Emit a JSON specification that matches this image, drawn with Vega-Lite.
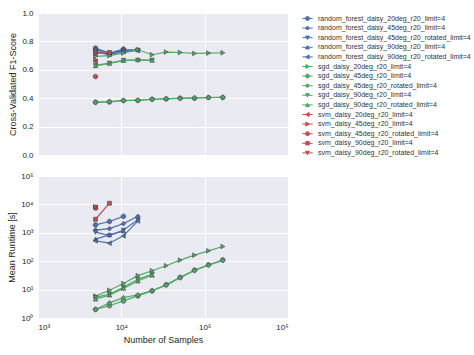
{
 "$schema": "https://vega.github.io/schema/vega-lite/v6.json",
 "background": "white",
 "padding": {"left": 7, "top": 9, "right": 2, "bottom": 5},
 "datasets": {
  "d": [
   {"series": "random_forest_daisy_20deg_r20_limit=4", "n": 4900, "f1": 0.753, "rt": 1900},
   {"series": "random_forest_daisy_20deg_r20_limit=4", "n": 7200, "f1": 0.718, "rt": 2500},
   {"series": "random_forest_daisy_20deg_r20_limit=4", "n": 10600, "f1": 0.746, "rt": 3800},
   {"series": "random_forest_daisy_45deg_r20_limit=4", "n": 4900, "f1": 0.745, "rt": 1250},
   {"series": "random_forest_daisy_45deg_r20_limit=4", "n": 7200, "f1": 0.712, "rt": 1400},
   {"series": "random_forest_daisy_45deg_r20_limit=4", "n": 10600, "f1": 0.74, "rt": 2100},
   {"series": "random_forest_daisy_45deg_r20_limit=4", "n": 15800, "f1": 0.74, "rt": 3800},
   {"series": "random_forest_daisy_45deg_r20_rotated_limit=4", "n": 4900, "f1": 0.73, "rt": 1050},
   {"series": "random_forest_daisy_45deg_r20_rotated_limit=4", "n": 7200, "f1": 0.705, "rt": 800},
   {"series": "random_forest_daisy_45deg_r20_rotated_limit=4", "n": 10600, "f1": 0.735, "rt": 1250},
   {"series": "random_forest_daisy_45deg_r20_rotated_limit=4", "n": 15800, "f1": 0.738, "rt": 2900},
   {"series": "random_forest_daisy_90deg_r20_limit=4", "n": 4900, "f1": 0.742, "rt": 600},
   {"series": "random_forest_daisy_90deg_r20_limit=4", "n": 7200, "f1": 0.715, "rt": 850},
   {"series": "random_forest_daisy_90deg_r20_limit=4", "n": 10600, "f1": 0.742, "rt": 1150},
   {"series": "random_forest_daisy_90deg_r20_rotated_limit=4", "n": 4900, "f1": 0.725, "rt": 520},
   {"series": "random_forest_daisy_90deg_r20_rotated_limit=4", "n": 7200, "f1": 0.708, "rt": 430},
   {"series": "random_forest_daisy_90deg_r20_rotated_limit=4", "n": 10600, "f1": 0.73, "rt": 780},
   {"series": "random_forest_daisy_90deg_r20_rotated_limit=4", "n": 15800, "f1": 0.735, "rt": 2600},

   {"series": "sgd_daisy_20deg_r20_limit=4", "n": 4900, "f1": 0.694, "rt": 5.9},
   {"series": "sgd_daisy_20deg_r20_limit=4", "n": 7200, "f1": 0.70, "rt": 9.5},
   {"series": "sgd_daisy_20deg_r20_limit=4", "n": 10600, "f1": 0.718, "rt": 16.5},
   {"series": "sgd_daisy_20deg_r20_limit=4", "n": 15800, "f1": 0.741, "rt": 31},
   {"series": "sgd_daisy_20deg_r20_limit=4", "n": 23400, "f1": 0.706, "rt": 46},
   {"series": "sgd_daisy_20deg_r20_limit=4", "n": 34500, "f1": 0.725, "rt": 69},
   {"series": "sgd_daisy_20deg_r20_limit=4", "n": 50800, "f1": 0.722, "rt": 109},
   {"series": "sgd_daisy_20deg_r20_limit=4", "n": 75500, "f1": 0.715, "rt": 163},
   {"series": "sgd_daisy_20deg_r20_limit=4", "n": 111000, "f1": 0.718, "rt": 232},
   {"series": "sgd_daisy_20deg_r20_limit=4", "n": 165000, "f1": 0.72, "rt": 330},
   {"series": "sgd_daisy_45deg_r20_limit=4", "n": 4900, "f1": 0.372, "rt": 2.0},
   {"series": "sgd_daisy_45deg_r20_limit=4", "n": 7200, "f1": 0.374, "rt": 2.7},
   {"series": "sgd_daisy_45deg_r20_limit=4", "n": 10600, "f1": 0.384, "rt": 4.0},
   {"series": "sgd_daisy_45deg_r20_limit=4", "n": 15800, "f1": 0.384, "rt": 6.0},
   {"series": "sgd_daisy_45deg_r20_limit=4", "n": 23400, "f1": 0.393, "rt": 9.0},
   {"series": "sgd_daisy_45deg_r20_limit=4", "n": 34500, "f1": 0.395, "rt": 15},
   {"series": "sgd_daisy_45deg_r20_limit=4", "n": 50800, "f1": 0.40, "rt": 27},
   {"series": "sgd_daisy_45deg_r20_limit=4", "n": 75500, "f1": 0.40, "rt": 49},
   {"series": "sgd_daisy_45deg_r20_limit=4", "n": 111000, "f1": 0.405, "rt": 75},
   {"series": "sgd_daisy_45deg_r20_limit=4", "n": 165000, "f1": 0.405, "rt": 112},
   {"series": "sgd_daisy_45deg_r20_rotated_limit=4", "n": 4900, "f1": 0.37, "rt": 2.0},
   {"series": "sgd_daisy_45deg_r20_rotated_limit=4", "n": 7200, "f1": 0.376, "rt": 3.4},
   {"series": "sgd_daisy_45deg_r20_rotated_limit=4", "n": 10600, "f1": 0.382, "rt": 5.2},
   {"series": "sgd_daisy_45deg_r20_rotated_limit=4", "n": 15800, "f1": 0.386, "rt": 6.5},
   {"series": "sgd_daisy_45deg_r20_rotated_limit=4", "n": 23400, "f1": 0.391, "rt": 9.3},
   {"series": "sgd_daisy_45deg_r20_rotated_limit=4", "n": 34500, "f1": 0.397, "rt": 14},
   {"series": "sgd_daisy_45deg_r20_rotated_limit=4", "n": 50800, "f1": 0.398, "rt": 26},
   {"series": "sgd_daisy_45deg_r20_rotated_limit=4", "n": 75500, "f1": 0.402, "rt": 46},
   {"series": "sgd_daisy_45deg_r20_rotated_limit=4", "n": 111000, "f1": 0.404, "rt": 72},
   {"series": "sgd_daisy_45deg_r20_rotated_limit=4", "n": 165000, "f1": 0.407, "rt": 105},
   {"series": "sgd_daisy_90deg_r20_limit=4", "n": 4900, "f1": 0.631, "rt": 5.3},
   {"series": "sgd_daisy_90deg_r20_limit=4", "n": 7200, "f1": 0.647, "rt": 7.0},
   {"series": "sgd_daisy_90deg_r20_limit=4", "n": 10600, "f1": 0.668, "rt": 12},
   {"series": "sgd_daisy_90deg_r20_limit=4", "n": 15800, "f1": 0.668, "rt": 23},
   {"series": "sgd_daisy_90deg_r20_limit=4", "n": 23400, "f1": 0.668, "rt": 35},
   {"series": "sgd_daisy_90deg_r20_rotated_limit=4", "n": 4900, "f1": 0.628, "rt": 4.6},
   {"series": "sgd_daisy_90deg_r20_rotated_limit=4", "n": 7200, "f1": 0.645, "rt": 6.4},
   {"series": "sgd_daisy_90deg_r20_rotated_limit=4", "n": 10600, "f1": 0.665, "rt": 11},
   {"series": "sgd_daisy_90deg_r20_rotated_limit=4", "n": 15800, "f1": 0.67, "rt": 20},
   {"series": "sgd_daisy_90deg_r20_rotated_limit=4", "n": 23400, "f1": 0.667, "rt": 32},

   {"series": "svm_daisy_20deg_r20_limit=4", "n": 4900, "f1": 0.66, "rt": 7800},
   {"series": "svm_daisy_45deg_r20_limit=4", "n": 4900, "f1": 0.67, "rt": 8200},
   {"series": "svm_daisy_45deg_r20_rotated_limit=4", "n": 4900, "f1": 0.553, "rt": 7500},
   {"series": "svm_daisy_90deg_r20_limit=4", "n": 4900, "f1": 0.715, "rt": 3000},
   {"series": "svm_daisy_90deg_r20_limit=4", "n": 7200, "f1": 0.722, "rt": 11000},
   {"series": "svm_daisy_90deg_r20_rotated_limit=4", "n": 4900, "f1": 0.72, "rt": 8000}
  ]
 },
 "config": {
  "font": "Liberation Sans",
  "view": {"fill": "#EAEAF2", "stroke": null},
  "axis": {"domain": false, "ticks": false, "gridColor": "white", "gridWidth": 1, "labelColor": "#262626", "labelFontSize": 8, "titleFontSize": 9, "titleFontWeight": "normal", "titleColor": "#262626", "labelPadding": 5},
  "legend": {"orient": "right", "offset": 14, "labelFontSize": 7, "labelColor": "#333333", "labelLimit": 250, "symbolSize": 16, "rowPadding": 0.6, "padding": 2, "labelOffset": 7},
  "concat": {"spacing": 13}
 },
 "resolve": {"scale": {"color": "shared", "shape": "shared"}, "legend": {"color": "shared", "shape": "shared"}},
 "vconcat": [
  {
   "width": 250, "height": 142,
   "data": {"name": "d"},
   "encoding": {
    "x": {"field": "n", "type": "quantitative", "scale": {"type": "log", "domain": [1000, 1000000], "nice": false}, "axis": {"labels": false, "title": null, "values": [1000, 10000, 100000, 1000000]}},
    "y": {"field": "f1", "type": "quantitative", "scale": {"domain": [0, 1], "nice": false}, "axis": {"title": "Cross-Validated F1-Score", "values": [0, 0.2, 0.4, 0.6, 0.8, 1.0], "format": ".1f"}}
   },
   "layer": [
    {"mark": {"type": "line", "strokeWidth": 1.2},
     "encoding": {"color": {"field": "series", "type": "nominal", "title": null,
      "legend": {"symbolType": "circle", "encode": {"symbols": {"update": {"shape": {"signal": "'M-2.6,0L2.6,0' + scale('shape', datum.value)"}, "fill": {"scale": "color", "field": "value"}, "stroke": {"scale": "color", "field": "value"}, "strokeWidth": {"value": 1}}}, "labels": {"update": {"fill": {"value": "#333333"}}}}},
      "scale": {"range": ["#4C72B0","#4C72B0","#4C72B0","#4C72B0","#4C72B0","#55A868","#55A868","#55A868","#55A868","#55A868","#C44E52","#C44E52","#C44E52","#C44E52","#C44E52"]}}}},
    {"mark": {"type": "point", "filled": true, "size": 22, "stroke": "#444444", "strokeWidth": 0.6, "opacity": 1},
     "encoding": {
      "color": {"field": "series", "type": "nominal", "title": null},
      "shape": {"field": "series", "type": "nominal", "legend": null,
      "scale": {"range": [
        "M1,0A1,1,0,1,1,-1,0A1,1,0,1,1,1,0Z",
        "M0,-1L1,0L0,1L-1,0Z",
        "M-1,-0.8L1,-0.8L0,0.9Z",
        "M-1,0.8L1,0.8L0,-0.9Z",
        "M0.8,-1L0.8,1L-0.9,0Z",
        "M-0.8,-1L-0.8,1L0.9,0Z",
        "M1,0A1,1,0,1,1,-1,0A1,1,0,1,1,1,0Z",
        "M0,-1L1,0L0,1L-1,0Z",
        "M-1,-0.8L1,-0.8L0,0.9Z",
        "M-1,0.8L1,0.8L0,-0.9Z",
        "M0.8,-1L0.8,1L-0.9,0Z",
        "M-0.8,-1L-0.8,1L0.9,0Z",
        "M1,0A1,1,0,1,1,-1,0A1,1,0,1,1,1,0Z",
        "M-0.85,-0.85L0.85,-0.85L0.85,0.85L-0.85,0.85Z",
        "M-1,-0.8L1,-0.8L0,0.9Z"
      ]}}}}
   ]
  },
  {
   "width": 250, "height": 142,
   "data": {"name": "d"},
   "encoding": {
    "x": {"field": "n", "type": "quantitative", "scale": {"type": "log", "domain": [1000, 1000000], "nice": false}, "axis": {"title": "Number of Samples", "values": [1000, 10000, 100000, 1000000], "labelExpr": "'10' + ['⁰','¹','²','³','⁴','⁵','⁶'][round(log(datum.value)/LN10)]"}},
    "y": {"field": "rt", "type": "quantitative", "scale": {"type": "log", "domain": [1, 100000], "nice": false}, "axis": {"title": "Mean Runtime [s]", "values": [1, 10, 100, 1000, 10000, 100000], "labelExpr": "'10' + ['⁰','¹','²','³','⁴','⁵','⁶'][round(log(datum.value)/LN10)]"}}
   },
   "layer": [
    {"mark": {"type": "line", "strokeWidth": 1.2},
     "encoding": {"color": {"field": "series", "type": "nominal", "title": null}}},
    {"mark": {"type": "point", "filled": true, "size": 22, "stroke": "#444444", "strokeWidth": 0.6, "opacity": 1},
     "encoding": {
      "color": {"field": "series", "type": "nominal", "title": null},
      "shape": {"field": "series", "type": "nominal", "legend": null}}}
   ]
  }
 ]
}
